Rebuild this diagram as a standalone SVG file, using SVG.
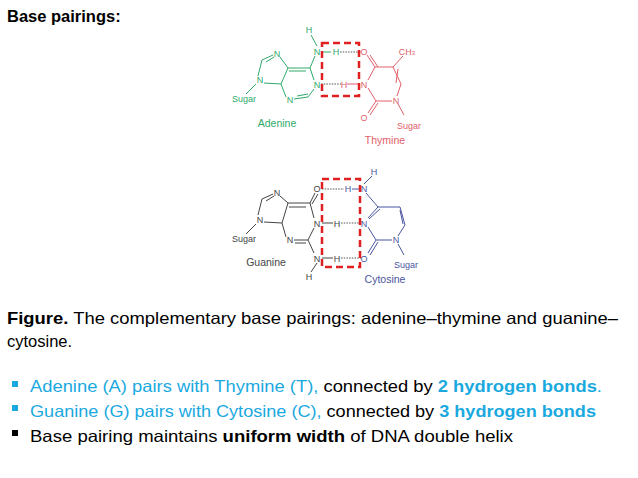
<svg xmlns="http://www.w3.org/2000/svg" width="638" height="478" viewBox="0 0 638 478">
<style>
.t{font-family:"Liberation Sans",Arial,sans-serif;font-size:16.5px;fill:#000}
.b{font-weight:bold}
.c{fill:#1aa9df}
.s{font-family:"Liberation Sans",Arial,sans-serif;font-size:9px}
.a{font-family:"Liberation Sans",Arial,sans-serif;font-size:10.5px}
.g{stroke:#2faa6a;fill:none;stroke-width:1}
.gt{fill:#2faa6a}
.r{stroke:#e0606a;fill:none;stroke-width:1}
.rt{fill:#e0606a}
.k{stroke:#444;fill:none;stroke-width:1}
.kt{fill:#444}
.u{stroke:#4a55a0;fill:none;stroke-width:1}
.ut{fill:#4a55a0}
.d{stroke:#555;stroke-dasharray:1.5 1.2;fill:none;stroke-width:1}
.box{stroke:#e02020;stroke-width:2.5;stroke-dasharray:7 4;fill:none}
</style>
<rect width="638" height="478" fill="#fff"/>
<text class="t b" x="7" y="22">Base pairings:</text>

<g id="adenine">
<path class="g" d="M288,68 L310,68 M310,68 L314,80 M314,89 L308,97 L294,99 M286,97 L281,84 L288,68 M288,68 L280,57 M273,55 L262,60 L258,76 M264,83 L281,84 M256,84 L246,94 M310,68 L315,56 M317,46 L311,35 M322,52 L331,52 M289,71 L306,71 M308,94 L297,96 M266,62 L274,57"/>
<text class="s gt" x="309" y="33" text-anchor="middle">H</text>
<text class="s gt" x="317" y="55" text-anchor="middle">N</text>
<text class="s gt" x="336" y="55" text-anchor="middle">H</text>
<text class="s gt" x="277" y="57" text-anchor="middle">N</text>
<text class="s gt" x="260" y="83" text-anchor="middle">N</text>
<text class="s gt" x="317" y="88" text-anchor="middle">N</text>
<text class="s gt" x="290" y="103" text-anchor="middle">N</text>
<text class="s gt" x="232" y="102">Sugar</text>
<text class="a gt" x="277" y="127" text-anchor="middle">Adenine</text>
</g>

<g id="thymine">
<path class="r" d="M368,80 L375,67 L393,67 L401,84 L397,96 M392,101 L376,101 L368,88 M375,67 L367,55 M378,67 L370,55 M393,67 L403,56 M398,69 L396,83 M376,101 L368,113 M378,103 L370,115 M398,104 L404,115 M347,84 L360,84"/>
<text class="s rt" x="364" y="55" text-anchor="middle">O</text>
<text class="s rt" x="407" y="55" text-anchor="middle">CH<tspan font-size="6">3</tspan></text>
<text class="s rt" x="364" y="88" text-anchor="middle">N</text>
<text class="s rt" x="344" y="88" text-anchor="middle">H</text>
<text class="s rt" x="396" y="104" text-anchor="middle">N</text>
<text class="s rt" x="364" y="121" text-anchor="middle">O</text>
<text class="s rt" x="397" y="129">Sugar</text>
<text class="a rt" x="385" y="144" text-anchor="middle">Thymine</text>
</g>

<g id="guanine">
<path class="k" d="M288,203 L310,203 L314,218 M314,228 L308,240 L294,240 M286,237 L282,223 L288,203 M288,203 L280,196 M273,194 L262,199 L258,215 M264,222 L282,223 M256,224 L246,234 M310,203 L315,193 M312,204 L318,194 M308,240 L314,253 M317,263 L311,272 M322,223 L333,223 M322,258 L333,258 M289,207 L306,207 M306,243 L295,243 M266,201 L274,196"/>
<text class="s kt" x="317" y="192" text-anchor="middle">O</text>
<text class="s kt" x="277" y="196" text-anchor="middle">N</text>
<text class="s kt" x="260" y="223" text-anchor="middle">N</text>
<text class="s kt" x="317" y="227" text-anchor="middle">N</text>
<text class="s kt" x="337" y="227" text-anchor="middle">H</text>
<text class="s kt" x="290" y="243" text-anchor="middle">N</text>
<text class="s kt" x="317" y="262" text-anchor="middle">N</text>
<text class="s kt" x="337" y="262" text-anchor="middle">H</text>
<text class="s kt" x="309" y="280" text-anchor="middle">H</text>
<text class="s kt" x="232" y="242">Sugar</text>
<text class="a kt" x="266" y="266" text-anchor="middle">Guanine</text>
</g>

<g id="cytosine">
<path class="u" d="M366,193 L378,207 L400,207 L405,225 L398,236 M392,240 L376,240 L368,227 M368,218 L378,207 M369,219 L380,209 M400,210 L403,224 M376,240 L368,253 M378,242 L370,255 M398,244 L404,255 M352,189 L360,189 M364,184 L372,176"/>
<text class="s ut" x="374" y="175" text-anchor="middle">H</text>
<text class="s ut" x="348" y="192" text-anchor="middle">H</text>
<text class="s ut" x="364" y="192" text-anchor="middle">N</text>
<text class="s ut" x="364" y="227" text-anchor="middle">N</text>
<text class="s ut" x="396" y="243" text-anchor="middle">N</text>
<text class="s ut" x="364" y="262" text-anchor="middle">O</text>
<text class="s ut" x="394" y="268">Sugar</text>
<text class="a ut" x="385" y="283" text-anchor="middle">Cytosine</text>
</g>

<g id="connectors">
<path class="d" d="M340,52 L361,52 M321,84 L341,84 M322,189 L344,189 M341,223 L361,223 M341,258 L361,258"/>
<rect class="box" x="322" y="43" width="37" height="53"/>
<rect class="box" x="322" y="179" width="38" height="88"/>
</g>

<text class="t" x="7" y="324" textLength="611" lengthAdjust="spacingAndGlyphs"><tspan class="b">Figure.</tspan> The complementary base pairings: adenine–thymine and guanine–</text>
<text class="t" x="7" y="347">cytosine.</text>

<rect x="12" y="381" width="6" height="6" fill="#1aa9df"/>
<rect x="12" y="405" width="6" height="6" fill="#1aa9df"/>
<rect x="12" y="430" width="6" height="6" fill="#000"/>
<text class="t" x="30" y="392" textLength="572" lengthAdjust="spacingAndGlyphs"><tspan class="c">Adenine (A) pairs with Thymine (T),</tspan> connected by <tspan class="c b">2 hydrogen bonds</tspan><tspan class="c">.</tspan></text>
<text class="t" x="30" y="417" textLength="566" lengthAdjust="spacingAndGlyphs"><tspan class="c">Guanine (G) pairs with Cytosine (C),</tspan> connected by <tspan class="c b">3 hydrogen bonds</tspan></text>
<text class="t" x="30" y="442" textLength="483" lengthAdjust="spacingAndGlyphs">Base pairing maintains <tspan class="b">uniform width</tspan> of DNA double helix</text>
</svg>
